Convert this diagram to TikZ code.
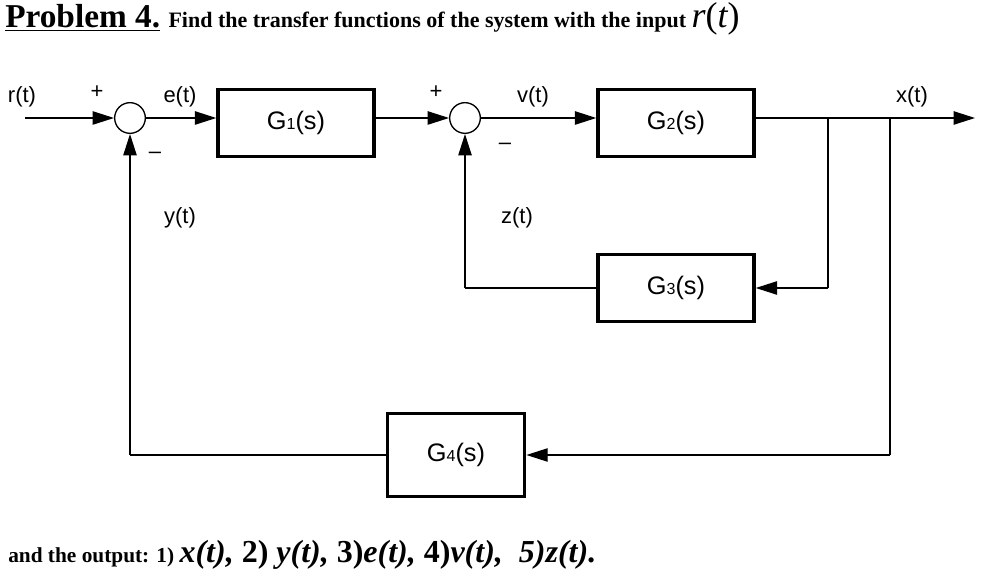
\documentclass[tikz,border=0pt]{standalone}
\usepackage{fontspec}
\setmainfont{Liberation Serif}
\newfontfamily\dsans{Liberation Sans}
\usetikzlibrary{arrows.meta}
\begin{document}
\begin{tikzpicture}[x=0.75pt,y=-0.75pt,
  blk/.style={draw,line width=2.6pt,minimum width=117pt,minimum height=50pt,inner sep=0pt,font=\dsans\fontsize{19}{20}\selectfont},
  sum/.style={draw,circle,line width=1pt,minimum size=23pt,inner sep=0pt},
  sig/.style={font=\dsans\fontsize{16.5}{17}\selectfont},
  ln/.style={line width=1pt},
  ar/.style={line width=1pt,-{Triangle[length=16pt,width=10pt]}}]
\useasboundingbox (0,0) rectangle (992,580);
% title
\node[anchor=base west,inner sep=0pt] (ttl) at (5,28) {\fontsize{25}{27}\selectfont\bfseries\underline{Problem 4.}\ \fontsize{16.5}{18}\selectfont Find the transfer functions of the system with the input \fontsize{27}{29}\selectfont\mdseries\itshape r\upshape(\itshape t\upshape)};
% blocks
\node[blk] (g1) at (296,123) {G{\fontsize{12}{12}\selectfont 1}(s)};
\node[blk] (g2) at (676,123) {G{\fontsize{12}{12}\selectfont 2}(s)};
\node[blk] (g3) at (676,288) {G{\fontsize{12}{12}\selectfont 3}(s)};
\node[blk,minimum width=103pt,minimum height=62pt] (g4) at (456,455) {G{\fontsize{12}{12}\selectfont 4}(s)};
\node[sum] (s1) at (130,118) {};
\node[sum] (s2) at (465,118) {};
\coordinate (in) at (25,118);
\coordinate (out) at (975,118);
\coordinate (b1) at (828,118);
\coordinate (b2) at (890,118);
\coordinate (b1d) at (828,288);
\coordinate (b2d) at (890,455);
\coordinate (zc) at (465,288);
\coordinate (yc) at (130,455);
% connectors
\draw[ar] (in) -- (s1);
\draw[ar] (s1) -- (s1 -| g1.west);
\draw[ar] (g1.east |- s2) -- (s2);
\draw[ar] (s2) -- (s2 -| g2.west);
\draw[ar] (g2.east |- out) -- (out);
\draw[ln] (b1) -- (b1d);
\draw[ar] (b1d) -- (g3.east |- b1d);
\draw[ln] (b2) -- (b2d);
\draw[ar] (b2d) -- (g4.east |- b2d);
\draw[ln] (g3.west |- zc) -- (zc);
\draw[ar] (zc) -- (s2);
\draw[ln] (g4.west |- yc) -- (yc);
\draw[ar] (yc) -- (s1);
% labels
\node[sig] (lr) at (22,97) {r(t)};
\node[sig] (lp1) at (97,92) {+};
\node[sig] (le) at (180,97) {e(t)};
\node[sig] (lm1) at (155,155) {\textendash};
\node[sig] (lp2) at (436,92) {+};
\node[sig] (lv) at (533,97) {v(t)};
\node[sig] (lm2) at (505,146) {\textendash};
\node[sig] (lx) at (912,97) {x(t)};
\node[sig] (lz) at (517,218) {z(t)};
\node[sig] (ly) at (180,218) {y(t)};
% bottom
\node[anchor=base west,inner sep=0pt] (bt) at (8,562) {\fontsize{16}{18}\selectfont\bfseries and the output: 1) \fontsize{24}{26}\selectfont\itshape x(t), \upshape 2) \itshape y(t), \upshape 3)\itshape e(t), \upshape 4)\itshape v(t),\ \ 5)z(t).};
\end{tikzpicture}
\end{document}
